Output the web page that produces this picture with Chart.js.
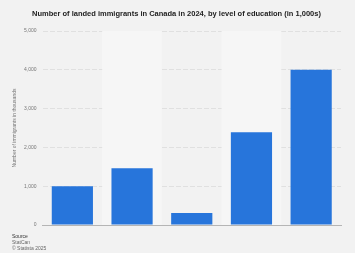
<!DOCTYPE html>
<html>
<head>
<meta charset="utf-8">
<script src="https://cdn.jsdelivr.net/npm/chart.js@4/dist/chart.umd.min.js"></script>
<style>
    body { margin: 0; background: #f2f2f2; font-family: "Liberation Sans", Arial, sans-serif; }
    #wrap { position: relative; width: 355px; height: 253px; }
    #source { position: absolute; left: 12px; top: 233px; font-size: 5px; line-height: 6px; color: #666; }
    #source b { color: #333; font-weight: normal; }
</style>
</head>
<body>
<div id="wrap">
    <canvas id="chart" width="355" height="253"></canvas>
    <div id="source"><b>Source</b><br>StatCan<br>© Statista 2025</div>
</div>
<script>
// Données (en milliers)
const categories = ['No secondary school', 'Secondary school', 'Trade certificate', "Bachelor's degree", "Master's degree or higher"];
const immigrants = [1000, 1460, 310, 2390, 4000];
const yTicks = [0, 1000, 2000, 3000, 4000, 5000];

// Bandes claires derrière une catégorie sur deux
const bandPlugin = {
    id: 'bands',
    beforeDatasetsDraw(chart) {
        const { ctx, chartArea, scales } = chart;
        const step = scales.x.getPixelForValue(1) - scales.x.getPixelForValue(0);
        ctx.save();
        ctx.fillStyle = '#f6f6f6';
        categories.forEach((c, i) => {
            if (i % 2 === 1) {
                const cx = scales.x.getPixelForValue(i);
                ctx.fillRect(cx - step / 2, chartArea.top, step, chartArea.bottom - chartArea.top);
            }
        });
        ctx.restore();
    }
};

const ctx = document.getElementById('chart').getContext('2d');
new Chart(ctx, {
    type: 'bar',
    data: {
        labels: categories,
        datasets: [{
            label: 'Number of immigrants in thousands',
            data: immigrants,
            backgroundColor: '#2775db',
            borderWidth: 0,
            categoryPercentage: 1,
            barPercentage: 0.69
        }]
    },
    options: {
        responsive: false,
        animation: false,
        layout: { padding: { left: 12, right: 14, top: 6, bottom: 20 } },
        plugins: {
            legend: { display: false },
            tooltip: { enabled: false },
            title: {
                display: true,
                text: 'Number of landed immigrants in Canada in 2024, by level of education (in 1,000s)',
                color: '#222',
                font: { family: 'Liberation Sans', size: 7.5, weight: 'bold' },
                padding: { top: 3, bottom: 13 }
            }
        },
        scales: {
            x: {
                ticks: { display: false },
                grid: { display: false },
                border: { color: '#b5b5b5', width: 1 }
            },
            y: {
                min: 0,
                max: 5000,
                afterBuildTicks(axis) { axis.ticks = yTicks.map(v => ({ value: v })); },
                ticks: {
                    color: '#777',
                    padding: 6,
                    font: { family: 'Liberation Sans', size: 5 },
                    callback: v => v.toLocaleString('en-US')
                },
                grid: { color: '#e0e0e0', drawTicks: false },
                border: { display: false, dash: [5, 2] },
                title: {
                    display: true,
                    text: 'Number of immigrants in thousands',
                    color: '#777',
                    font: { family: 'Liberation Sans', size: 5 },
                    padding: 0
                }
            }
        }
    },
    plugins: [bandPlugin]
});
</script>
</body>
</html>
